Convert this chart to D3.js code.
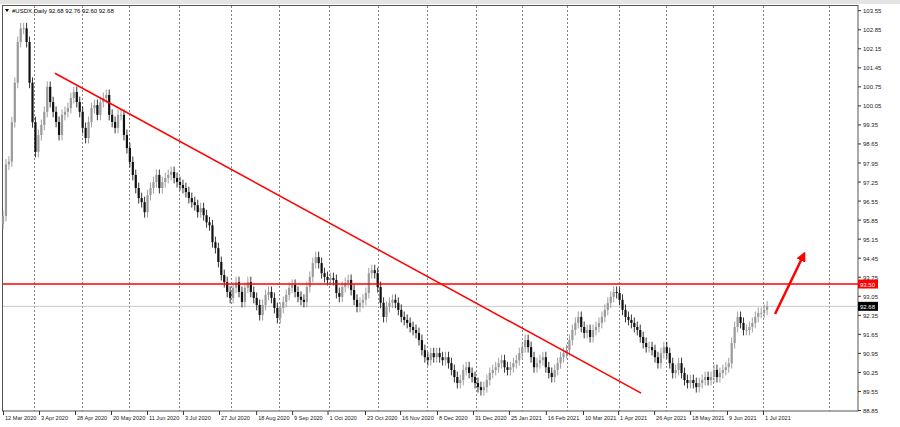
<!DOCTYPE html>
<html>
<head>
<meta charset="utf-8">
<script src="https://cdn.jsdelivr.net/npm/d3@7"></script>
<style>
  body { margin: 0; background: #fff; }
  text { font-family: "Liberation Sans", Arial, sans-serif; }
</style>
</head>
<body>
<div id="chart"></div>
<script>
// daily closes, USDX
const closes = [96.0, 97.9, 98.0, 99.45, 100.9, 102.4, 102.9, 102.9, 102.4, 100.9, 99.45, 98.36, 98.98, 99.35, 99.83, 100.75, 100.19, 99.83, 99.46, 98.98,
  99.72, 99.83, 99.97, 100.34, 100.56, 100.19, 99.83, 99.24, 98.87, 99.46, 99.97, 100.08, 99.72, 100.19, 100.34, 100.45, 99.72, 99.46, 99.24, 99.72,
  99.72, 98.98, 98.5, 97.99, 97.51, 97.03, 96.66, 96.51, 96.14, 96.77, 97.03, 97.25, 97.51, 97.03, 97.25, 97.4, 97.51, 97.62, 97.4, 97.25,
  97.14, 97.03, 96.88, 96.66, 96.51, 96.4, 96.14, 96.29, 96.03, 95.77, 95.66, 95.04, 94.82, 94.31, 93.83, 93.57, 93.21, 92.99, 93.36, 93.57,
  93.21, 92.84, 93.36, 93.57, 93.21, 92.99, 92.73, 92.36, 92.73, 93.1, 93.21, 92.99, 92.62, 92.25, 92.62, 92.84, 93.1, 93.36, 93.47, 93.21,
  93.03, 92.92, 92.84, 93.39, 93.76, 94.27, 94.49, 94.27, 93.9, 93.76, 93.65, 93.72, 93.65, 93.17, 93.03, 93.39, 93.54, 93.65, 93.28, 92.92,
  92.66, 92.81, 92.92, 93.17, 93.9, 94.01, 93.9, 93.39, 92.81, 92.29, 92.66, 92.81, 92.92, 92.81, 92.55, 92.29, 92.18, 92.07, 91.92, 91.81,
  91.7, 91.44, 91.07, 90.81, 90.7, 90.96, 90.81, 90.96, 90.81, 90.7, 90.81, 90.59, 90.34, 90.08, 89.86, 89.97, 90.34, 90.44, 90.23, 90.08,
  89.86, 89.71, 89.6, 89.71, 89.97, 90.23, 90.34, 90.44, 90.59, 90.7, 90.44, 90.34, 90.44, 90.59, 90.7, 90.96, 91.18, 91.44, 91.18, 90.81,
  90.44, 90.59, 90.7, 90.81, 90.44, 90.23, 90.08, 90.34, 90.59, 90.81, 90.96, 91.07, 91.44, 91.81, 92.07, 92.29, 91.92, 91.7, 91.81, 91.55,
  91.81, 91.92, 92.07, 92.29, 92.55, 92.81, 93.03, 93.21, 93.17, 92.92, 92.55, 92.29, 92.18, 92.07, 91.92, 91.81, 91.55, 91.33, 91.18, 91.18,
  91.07, 90.81, 90.59, 90.96, 91.18, 90.96, 90.59, 90.23, 90.34, 90.59, 90.23, 89.97, 89.86, 89.97, 89.86, 89.71, 89.86, 89.97, 90.08, 89.97,
  90.08, 90.34, 90.08, 90.23, 90.34, 90.44, 90.59, 91.33, 91.92, 92.29, 92.07, 91.81, 91.81, 91.92, 92.07, 92.29, 92.44, 92.44, 92.55, 92.68];

const dateLabels = ['12 Mar 2020', '3 Apr 2020', '28 Apr 2020', '20 May 2020', '11 Jun 2020', '3 Jul 2020', '27 Jul 2020',
  '18 Aug 2020', '9 Sep 2020', '1 Oct 2020', '23 Oct 2020', '16 Nov 2020', '8 Dec 2020', '31 Dec 2020', '25 Jan 2021',
  '16 Feb 2021', '10 Mar 2021', '1 Apr 2021', '26 Apr 2021', '18 May 2021', '9 Jun 2021', '1 Jul 2021'];
const dateIdx = [0, 12.2, 24.4, 36.6, 48.8, 61, 73.2, 85.8, 98, 110, 122.7, 134.6, 147.1, 159.3, 171.5, 184, 196.6, 208.5, 220.7, 232.9, 245.4, 257.6];
const gridIdx = [10.5, 26.8, 42.7, 59.7, 77.3, 93.6, 110.5, 127.1, 143.7, 160.3, 175.9, 191.2, 208.8, 224.7, 240.7, 257.6, 280];
const priceTicks = ['103.55', '102.85', '102.15', '101.45', '100.75', '100.05', '99.35', '98.65', '97.95', '97.25', '96.55',
  '95.85', '95.15', '94.45', '93.75', '93.05', '92.35', '91.65', '90.95', '90.25', '89.55', '88.85'];
const level = 93.50;
const lastPrice = 92.68;
const trendLine = [[17.6, 101.25], [216.3, 89.49]];
const arrowLine = [[261.7, 92.40], [271.2, 94.53]];

const W = 900, H = 427;
const svg = d3.select('#chart').append('svg').attr('width', W).attr('height', H);

let x = d3.scaleLinear().domain([0, 261]).range([3, 773]);
let y = d3.scaleLinear().domain([88.85, 103.55]).range([410.5, 10.7]);

// top strip
svg.append('rect').attr('x', 0).attr('y', 0).attr('width', W).attr('height', 4).attr('fill', '#e4e4e4');

// frame
svg.append('rect').attr('x', 2.5).attr('y', 5.5).attr('width', 855.5).attr('height', 405.5)
  .attr('fill', 'none').attr('stroke', '#555');

// vertical grid
svg.append('g').selectAll('line').data(gridIdx).enter().append('line')
  .attr('x1', d => Math.round(x(d)) + 0.5).attr('x2', d => Math.round(x(d)) + 0.5)
  .attr('y1', 6).attr('y2', 411)
  .attr('stroke', '#666').attr('stroke-width', 0.8).attr('stroke-dasharray', '2,2');

// last price line
svg.append('line').attr('x1', 3).attr('x2', 858).attr('y1', y(lastPrice)).attr('y2', y(lastPrice))
  .attr('stroke', '#c8c8c8');

// candles
let bars = closes.map((c, i) => {
  let o = i == 0 ? c - 0.3 : closes[i - 1];
  return { i: i, o: o, c: c, h: Math.max(o, c) + 0.2, l: Math.min(o, c) - 0.2 };
});
let g = svg.append('g');
g.selectAll('line').data(bars).enter().append('line')
  .attr('x1', d => x(d.i)).attr('x2', d => x(d.i))
  .attr('y1', d => y(d.h)).attr('y2', d => y(d.l))
  .attr('stroke', d => d.c >= d.o ? '#888' : '#000').attr('stroke-width', 0.8);
g.selectAll('rect').data(bars).enter().append('rect')
  .attr('x', d => x(d.i) - 1.1).attr('width', 2.2)
  .attr('y', d => y(Math.max(d.o, d.c)))
  .attr('height', d => Math.max(0.8, Math.abs(y(d.o) - y(d.c))))
  .attr('fill', d => d.c >= d.o ? '#9a9a9a' : '#111');

// red level and trend line
svg.append('line').attr('x1', 3).attr('x2', 858).attr('y1', y(level)).attr('y2', y(level))
  .attr('stroke', '#f00').attr('stroke-width', 1.5);
svg.append('line')
  .attr('x1', x(trendLine[0][0])).attr('y1', y(trendLine[0][1]))
  .attr('x2', x(trendLine[1][0])).attr('y2', y(trendLine[1][1]))
  .attr('stroke', '#f00').attr('stroke-width', 1.5);

// arrow
svg.append('defs').append('marker').attr('id', 'ah').attr('viewBox', '0 0 10 10')
  .attr('refX', 5).attr('refY', 5).attr('markerWidth', 4).attr('markerHeight', 4).attr('orient', 'auto')
  .append('path').attr('d', 'M0,0 L10,5 L0,10 z').attr('fill', '#f00');
svg.append('line')
  .attr('x1', x(arrowLine[0][0])).attr('y1', y(arrowLine[0][1]))
  .attr('x2', x(arrowLine[1][0])).attr('y2', y(arrowLine[1][1]))
  .attr('stroke', '#f00').attr('stroke-width', 2.5).attr('marker-end', 'url(#ah)');

// price axis
let pa = svg.append('g');
pa.selectAll('line').data(priceTicks).enter().append('line')
  .attr('x1', 858).attr('x2', 861).attr('y1', d => y(+d)).attr('y2', d => y(+d)).attr('stroke', '#333');
pa.selectAll('text').data(priceTicks).enter().append('text')
  .attr('x', 863).attr('y', d => y(+d) + 2.5).attr('font-size', 6).attr('fill', '#222').text(d => d);

function priceTag(v, col) {
  svg.append('rect').attr('x', 858).attr('y', y(v) - 4.5).attr('width', 20).attr('height', 9).attr('fill', col);
  svg.append('text').attr('x', 860).attr('y', y(v) + 2.5).attr('font-size', 6).attr('fill', '#fff').text(v.toFixed(2));
}
priceTag(level, '#f00');
priceTag(lastPrice, '#000');

// date axis
let da = svg.append('g');
da.selectAll('line').data(dateIdx).enter().append('line')
  .attr('x1', d => x(d) + 0.5).attr('x2', d => x(d) + 0.5).attr('y1', 411).attr('y2', 415).attr('stroke', '#333');
da.selectAll('text').data(dateLabels).enter().append('text')
  .attr('x', (d, i) => x(dateIdx[i]) + 2).attr('y', 420).attr('font-size', 5.6).attr('fill', '#222').text(d => d);

// title
svg.append('path').attr('d', 'M5,9 L9,9 L7,12 z').attr('fill', '#000');
svg.append('text').attr('x', 12).attr('y', 12.5).attr('font-size', 6).attr('fill', '#000')
  .text('#USDX,Daily  92.68 92.76 92.60 92.68');
</script>
</body>
</html>
